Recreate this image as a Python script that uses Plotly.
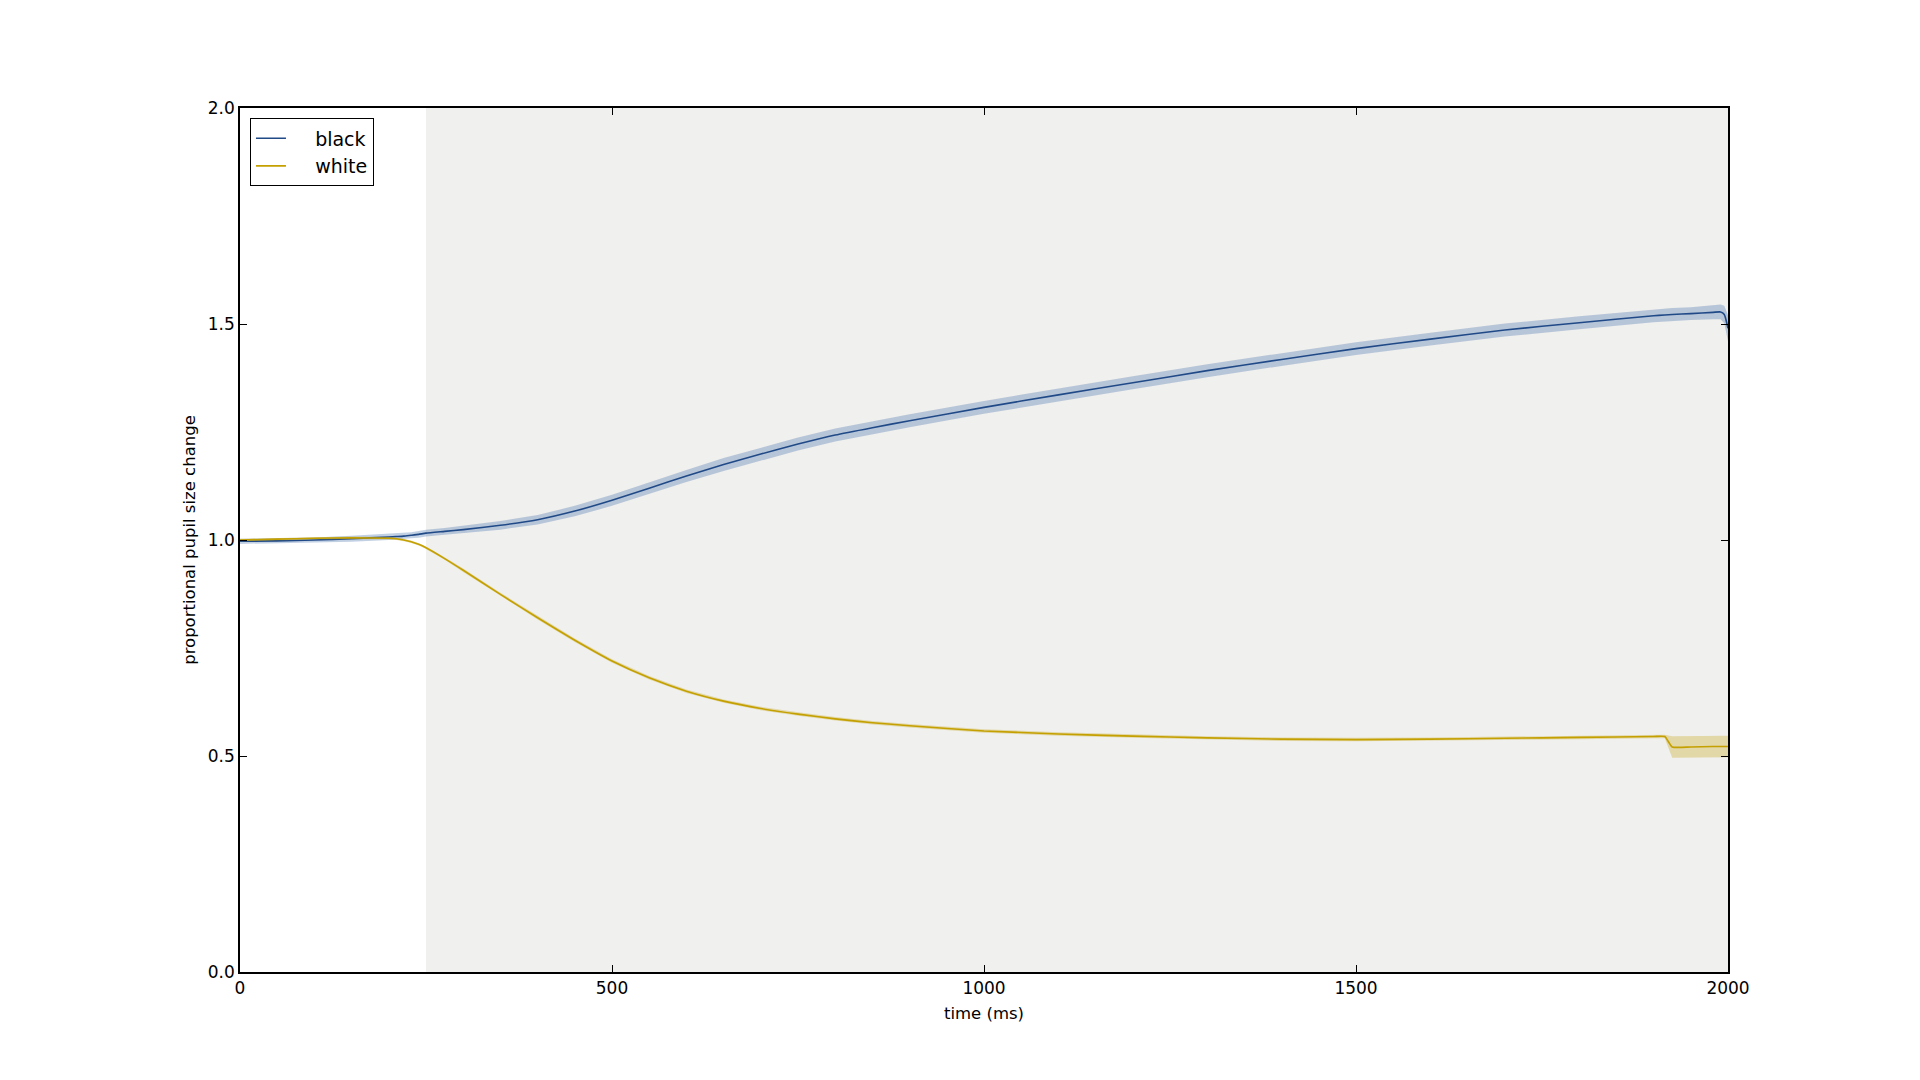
import plotly.graph_objects as go

# sample times (ms)
time_ms = [0, 50, 100, 150, 200, 210, 220, 230, 240, 250, 275, 300, 350, 400, 450, 500, 550, 600,
           650, 700, 750, 800, 850, 900, 1000, 1100, 1200, 1300, 1400, 1500, 1600, 1700, 1800,
           1900, 1915, 1925, 1950, 1980, 1990, 1995, 2000]

# mean pupil size (proportional to baseline)
black_mean = [0.997, 0.998, 1.0, 1.003, 1.007, 1.008, 1.009, 1.011, 1.013, 1.016, 1.02, 1.024,
              1.034, 1.047, 1.067, 1.092, 1.12, 1.148, 1.175, 1.199, 1.222, 1.243, 1.26, 1.276,
              1.307, 1.336, 1.364, 1.392, 1.418, 1.443, 1.465, 1.486, 1.503, 1.519, 1.521, 1.522,
              1.524, 1.527, 1.528, 1.522, 1.49]
black_err = [0.006, 0.006, 0.006, 0.007, 0.007, 0.007, 0.007, 0.007, 0.008, 0.008, 0.008, 0.009,
             0.01, 0.011, 0.012, 0.013, 0.014, 0.014, 0.015, 0.015, 0.015, 0.015, 0.015, 0.015,
             0.015, 0.015, 0.015, 0.015, 0.015, 0.015, 0.015, 0.015, 0.015, 0.015, 0.015, 0.015,
             0.015, 0.016, 0.017, 0.02, 0.03]

white_mean = [1.0, 1.002, 1.004, 1.005, 1.004, 1.003, 1.0, 0.996, 0.99, 0.982, 0.957, 0.93,
              0.874, 0.82, 0.768, 0.72, 0.681, 0.65, 0.627, 0.61, 0.597, 0.586, 0.577, 0.57,
              0.558, 0.551, 0.546, 0.542, 0.539, 0.538, 0.539, 0.541, 0.543, 0.545, 0.545, 0.521,
              0.521, 0.522, 0.522, 0.522, 0.522]
white_err = [0.003, 0.003, 0.003, 0.003, 0.003, 0.003, 0.003, 0.003, 0.003, 0.003, 0.003, 0.004,
             0.004, 0.004, 0.004, 0.004, 0.004, 0.004, 0.004, 0.004, 0.004, 0.004, 0.004, 0.004,
             0.004, 0.004, 0.004, 0.004, 0.004, 0.004, 0.004, 0.004, 0.004, 0.004, 0.004, 0.025,
             0.025, 0.025, 0.025, 0.025, 0.025]

y_ticks = [0.0, 0.5, 1.0, 1.5, 2.0]
x_ticks = [0, 500, 1000, 1500, 2000]

series = [
    ("black", black_mean, black_err, "#204a87", "rgba(52,101,164,0.3)"),
    ("white", white_mean, white_err, "#c4a000", "rgba(196,160,0,0.3)"),
]

fig = go.Figure()

for name, mean, err, col, fill in series:
    upper = [m + e for m, e in zip(mean, err)]
    lower = [m - e for m, e in zip(mean, err)]
    fig.add_trace(go.Scatter(x=time_ms + time_ms[::-1], y=upper + lower[::-1], fill="toself",
                             fillcolor=fill, line=dict(width=0), showlegend=False,
                             hoverinfo="skip"))
    # nbsp padding pushes the label right like the matplotlib legend
    fig.add_trace(go.Scatter(x=time_ms, y=mean, mode="lines", name="\u00a0\u00a0\u00a0\u00a0" + name,
                             line=dict(color=col, width=1.6, shape="spline", smoothing=0.5)))

# stimulus period shading
fig.add_vrect(x0=250, x1=2000, fillcolor="#f0f0ee", line_width=0, layer="below")

# page body has an 8px margin, so the figure is shrunk to keep axes at 240..1728 / 108..972
fig.update_layout(
    width=1904, height=1064,
    paper_bgcolor="white", plot_bgcolor="white",
    font=dict(family="DejaVu Sans", size=17, color="black"),
    margin=dict(l=232, r=184, t=100, b=100),
    legend=dict(x=0.0067, y=0.988, xanchor="left", yanchor="top", bgcolor="white",
                bordercolor="black", borderwidth=1, font=dict(size=19),
                itemwidth=30),
    showlegend=True,
)
fig.update_xaxes(range=[0, 2000], tickvals=x_ticks, ticktext=[str(v) for v in x_ticks],
                 showgrid=False, zeroline=False, showline=True, linecolor="black", linewidth=1.5,
                 mirror="ticks", ticks="inside", ticklen=7, tickcolor="black",
                 title=dict(text="time (ms)", standoff=10, font=dict(size=16.5)))
fig.update_yaxes(range=[0, 2.0], tickvals=y_ticks, ticktext=["%.1f" % v for v in y_ticks],
                 showgrid=False, zeroline=False, showline=True, linecolor="black", linewidth=1.5,
                 mirror="ticks", ticks="inside", ticklen=7, tickcolor="black",
                 title=dict(text="proportional pupil size change", standoff=8, font=dict(size=16.5)))

fig.write_html("out.html")
